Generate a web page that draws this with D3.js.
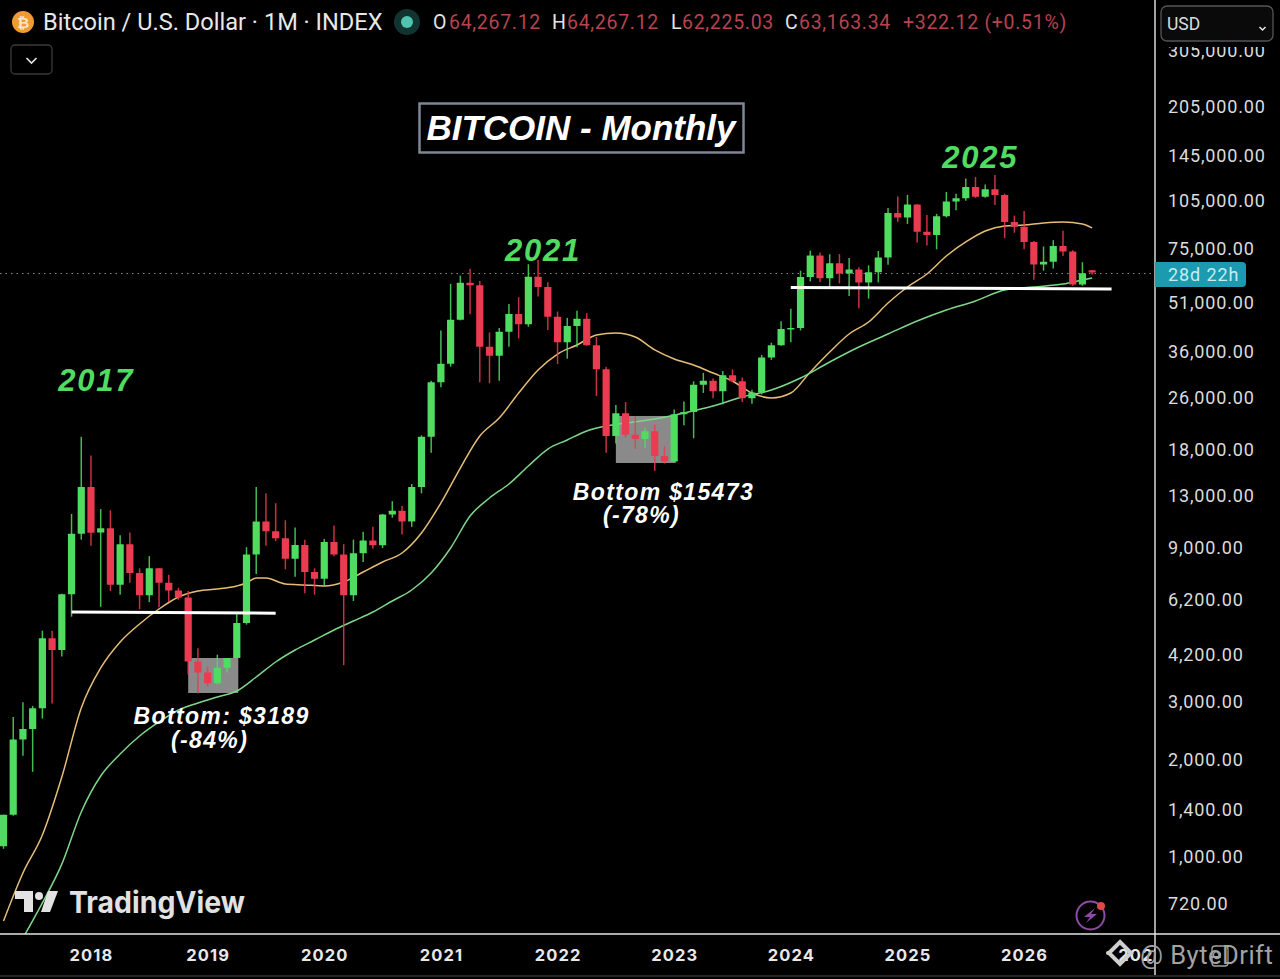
<!DOCTYPE html>
<html>
<head>
<meta charset="utf-8">
<script src="https://cdn.jsdelivr.net/npm/d3@7/dist/d3.min.js"></script>
<style>
html,body{margin:0;padding:0;background:#000;overflow:hidden}
svg{display:block}
text{font-family:Roboto,sans-serif}
</style>
</head>
<body>
<svg id="chart" width="1280" height="979"></svg>
<script>
const startMonth = "2017-04";
const opens = [1080,1350,2300,2480,2875,4720,4340,6450,9900,
13800,10000,10300,6900,9200,7500,6400,7750,7000,6620,6300,4000,
3700,3430,3830,4100,5260,8550,10800,10080,9600,8300,9150,7550,
7200,9350,8550,6400,8620,9450,9130,11350,11650,10800,13800,19700,
29000,33100,45200,58800,57700,37300,35000,41500,47100,43800,61300,57000,
46200,38500,43200,45500,37700,31800,19800,23300,20000,19400,20500,17200,
16550,23100,23500,28500,29300,27200,30500,29200,25900,27000,34600,37700,
42300,42600,61200,71300,60700,67500,62700,64600,58900,63300,70300,96400,
93400,102400,84400,82500,94200,104600,107100,115800,108200,114000,109500,90400,
87500,78500,66900,68200,76300,73300,58000,64267];
const closes = [1350,2300,2480,2875,4720,4340,6450,9900,13800,
9970,10300,6900,9200,7500,6400,7750,7000,6620,6300,4000,3700,
3430,3830,4100,5260,8550,10800,10080,9600,8300,9150,7550,7200,
9350,8550,6400,8620,9450,9130,11350,11650,10800,13800,19700,29000,
33100,45200,58800,57700,37300,35000,41500,47100,43800,61300,57000,46200,
38500,43200,45500,37700,31800,19800,23300,20000,19400,20500,17200,16550,
23100,23500,28500,29300,27200,30500,29200,25900,27000,34600,37700,42300,
42600,61200,71300,60700,67500,62700,64600,58900,63300,70300,96400,93400,
102400,84400,82500,94200,104600,107100,115800,108200,114000,109500,90400,87500,
78500,66900,68200,76300,73300,58000,62840,63163];
const highs = [1350,2700,3000,2920,4980,4980,6470,11400,19700,
17250,11800,11700,9800,10000,7750,8450,7750,7400,6750,6600,4400,
3850,4200,4100,5600,9000,13800,13200,12300,10900,10350,9500,7750,
9550,10500,9200,9500,10050,10400,11400,12480,12050,14100,19900,29300,
41900,58300,61800,64900,59500,41300,42600,50500,53000,67000,69000,59000,
47900,45800,48200,47400,40000,32400,24700,25200,22800,21000,21500,18400,
23900,25300,29200,31000,29800,31400,31800,30000,27500,35200,38400,44700,
48900,64000,73800,72800,71900,72000,70000,65600,66500,73600,99800,108400,
109600,102500,95000,95800,111900,110500,123200,124500,117900,126200,110600,94600,
97800,79000,76000,79500,85000,74000,68000,64267];
const lows = [1060,1340,2050,1830,2670,2970,4150,5500,9500,
9100,5900,6600,6430,7000,5800,6100,5880,6100,6200,3650,3189,
3350,3400,3700,4100,5200,7450,9100,9400,7700,7300,6500,6430,
6850,8450,3900,6150,8100,8900,8950,11100,9850,10400,13200,17600,
28000,32400,45000,47000,29000,28800,29300,37300,39600,43000,53300,42000,
33000,34300,37200,37600,26300,17600,18800,19600,18100,18200,15473,16300,
16500,21400,19500,26900,25900,24800,29000,25200,24900,26600,34000,37600,
38500,41900,59300,59100,56500,58500,53500,49000,52500,58900,66800,90500,
89200,78200,76600,74500,93400,98300,105100,107300,107300,102000,80600,83800,
74500,60000,64000,65000,71000,57500,57500,62225];

const fastMonths = ["2017-04","2017-06","2017-08","2017-10","2017-12","2018-02","2018-04","2018-06","2018-08","2018-10","2018-12","2019-02","2019-04","2019-05","2019-06","2019-07","2019-09","2019-11","2020-01","2020-03","2020-05","2020-07","2020-09","2020-11","2021-01","2021-03","2021-05","2021-07","2021-09","2021-11","2022-01","2022-03","2022-05","2022-07","2022-09","2022-11","2023-01","2023-03","2023-05","2023-07","2023-09","2023-11","2024-01","2024-03","2024-05","2024-07","2024-09","2024-11","2025-01","2025-03","2025-05","2025-07","2025-09","2025-11","2026-01","2026-03","2026-05","2026-07","2026-08"];
const fastAverage = [635,893,1169,1764,2878,3822,4596,5221,5808,6324,6600,6692,6840,6985,7235,7235,6934,6890,6840,7035,7551,8106,8640,9958,12320,15790,19815,22510,26880,31640,35440,37780,40560,41150,39990,36480,34220,32780,30970,29270,26880,25950,26880,31200,35960,40850,44480,50890,57010,62520,71040,78470,84820,87880,88500,89800,90400,89100,86700];
const slowMonths = ["2017-06","2017-08","2017-10","2017-12","2018-02","2018-04","2018-06","2018-08","2018-10","2018-12","2019-02","2019-04","2019-06","2019-08","2019-10","2019-12","2020-02","2020-04","2020-06","2020-08","2020-10","2020-12","2021-02","2021-04","2021-06","2021-08","2021-10","2021-12","2022-02","2022-04","2022-06","2022-08","2022-11","2023-02","2023-05","2023-08","2023-11","2024-02","2024-05","2024-08","2024-11","2025-02","2025-05","2025-08","2025-11","2026-02","2026-05","2026-07","2026-08"];
const slowAverage = [563,722,951,1376,1776,2076,2359,2606,2837,2982,3111,3246,3585,3988,4342,4661,5004,5333,5684,6148,6646,7497,8954,11233,12764,14098,16017,18064,19263,20530,21270,21730,22350,23320,24510,26130,27460,29900,33500,37250,40850,44790,48430,51640,55830,57010,58240,59920,60770];

const supportLines = [
  {from:"2017-11", to:"2019-08", start:5684, end:5640},
  {from:"2024-01", to:"2026-10", start:56820, end:56200}
];
const bottomZones = [
  {from:"2018-11", to:"2019-04", top:4103, bottom:3201},
  {from:"2022-07", to:"2023-01", top:22840, bottom:16360}
];
const yearLabels = [
  {text:"2017", month:"2017-12", price:27260, adjust:15},
  {text:"2021", month:"2021-11", price:68560, adjust:5},
  {text:"2025", month:"2025-09", price:132600, adjust:-5}
];
const bottomNotes = [
  {lines:["Bottom: $3189","(-84%)"], month:"2019-01", price:2570, dx1:14, dx2:2, gap:24},
  {lines:["Bottom $15473","(-78%)"], month:"2022-12", price:12580, dx1:-1, dx2:-23, gap:23}
];
const priceTicks = [305000,205000,145000,105000,75000,51000,36000,26000,18000,13000,9000,6200,4200,3000,2000,1400,1000,720];
const yearTicks = ["2018","2019","2020","2021","2022","2023","2024","2025","2026","2027"];
const lastPrice = 63163;
const countdown = "28d 22h";
const symbolTitle = "Bitcoin / U.S. Dollar · 1M · INDEX";
const ohlcLabels = ["O","H","L","C"];
const ohlcValues = ["64,267.12","64,267.12","62,225.03","63,163.34"];
const changeText = "+322.12 (+0.51%)";

const parse = d3.utcParse("%Y-%m");
const fmt = d3.utcFormat("%Y-%m");
const monthList = d3.utcMonth.range(parse(startMonth), parse("2027-02")).map(fmt);

const x = d3.scalePoint().domain(monthList).range([3.5, 3.5 + 9.72*(monthList.length-1)]);
const y = d3.scaleLog().domain([1000,305000]).range([857,50.6]);

const svg = d3.select("#chart");
const W = 1280, H = 979, axisX = 1155, axisY = 934;
const green = "#4fdc60", red = "#ea3b50";
const defs = svg.append("defs");
defs.append("clipPath").attr("id","plot").append("rect").attr("width",axisX).attr("height",axisY);
defs.append("clipPath").attr("id","timeclip").append("rect").attr("y",axisY).attr("width",axisX).attr("height",H-axisY);
defs.append("clipPath").attr("id","priceclip").append("rect").attr("x",axisX).attr("y",47).attr("width",W-axisX).attr("height",axisY-47);

svg.append("rect").attr("width",W).attr("height",H).attr("fill","#000");
const plot = svg.append("g").attr("clip-path","url(#plot)");

// bottom zones
plot.append("g").selectAll("rect").data(bottomZones).join("rect")
  .attr("x",d=>x(d.from)).attr("width",d=>x(d.to)-x(d.from)+1.5)
  .attr("y",d=>y(d.top)).attr("height",d=>y(d.bottom)-y(d.top))
  .attr("fill","#8a8a8a");

// last price line
plot.append("line").attr("x1",0).attr("x2",axisX).attr("y1",y(lastPrice)+1).attr("y2",y(lastPrice)+1)
  .attr("stroke","#8b8f92").attr("stroke-width",1).attr("stroke-dasharray","1.5 4");

// moving averages
const lineGen = d3.line().x(d=>x(d[0])).y(d=>y(d[1])).curve(d3.curveMonotoneX);
plot.append("path").datum(d3.zip(fastMonths,fastAverage)).attr("d",lineGen)
  .attr("fill","none").attr("stroke","#e6bd77").attr("stroke-width",1.5);
plot.append("path").datum(d3.zip(slowMonths,slowAverage)).attr("d",lineGen)
  .attr("fill","none").attr("stroke","#7fd68a").attr("stroke-width",1.5);

// candles
const candles = opens.map((o,i)=>({m:monthList[i],o,c:closes[i],h:highs[i],l:lows[i]}));
const cg = plot.append("g").selectAll("g").data(candles).join("g")
  .attr("fill",d=>d.c>=d.o?green:red).attr("stroke",d=>d.c>=d.o?green:red);
cg.append("line").attr("x1",d=>x(d.m)).attr("x2",d=>x(d.m))
  .attr("y1",d=>y(d.h)).attr("y2",d=>y(d.l)).attr("stroke-width",1.5).attr("stroke-opacity",.85);
cg.append("rect").attr("x",d=>x(d.m)-3.6).attr("width",7.2)
  .attr("y",d=>y(Math.max(d.o,d.c)))
  .attr("height",d=>Math.max(1.5,Math.abs(y(d.o)-y(d.c))))
  .attr("stroke","none").attr("rx",.5);

// support lines
plot.append("g").selectAll("line").data(supportLines).join("line")
  .attr("x1",d=>x(d.from)).attr("x2",d=>x(d.to))
  .attr("y1",d=>y(d.start)).attr("y2",d=>y(d.end))
  .attr("stroke","#fff").attr("stroke-width",3);

// title
svg.append("rect").attr("x",419.5).attr("y",103.5).attr("width",324).attr("height",49)
  .attr("fill","#000").attr("stroke","#7d8796").attr("stroke-width",2.5);
svg.append("text").attr("x",581).attr("y",140).attr("text-anchor","middle")
  .attr("fill","#fff").style("font-family","'Liberation Sans',Arial,sans-serif")
  .style("font-weight",700).style("font-style","italic").style("font-size","35px")
  .text("BITCOIN - Monthly");

// year notes
svg.append("g").selectAll("text").data(yearLabels).join("text")
  .attr("x",d=>x(d.month)+d.adjust).attr("y",d=>y(d.price))
  .attr("text-anchor","middle").attr("fill",green)
  .style("font-family","'Liberation Sans',Arial,sans-serif").style("font-weight",700).style("font-style","italic")
  .style("font-size","31px").style("letter-spacing","1.8px").text(d=>d.text);

// bottoms
const noteStyle = s => s.attr("text-anchor","middle").attr("fill","#fff")
  .style("font-family","'Liberation Sans',Arial,sans-serif").style("font-weight",700).style("font-style","italic")
  .style("font-size","23px").style("letter-spacing","1.35px");
const noteG = svg.append("g").selectAll("g").data(bottomNotes).join("g");
noteG.append("text").attr("x",d=>x(d.month)+d.dx1).attr("y",d=>y(d.price)).call(noteStyle).text(d=>d.lines[0]);
noteG.append("text").attr("x",d=>x(d.month)+d.dx2).attr("y",d=>y(d.price)+d.gap).call(noteStyle).text(d=>d.lines[1]);

// TradingView watermark
const tv = svg.append("g").attr("fill","#e2e2e2");
tv.append("path").attr("d","M15 891H33V912H24V899H15Z");
tv.append("circle").attr("cx",39).attr("cy",896).attr("r",4);
tv.append("path").attr("d","M48 891H58L50 912H41Z");
tv.append("text").attr("x",69).attr("y",913).style("font-family","Inter,sans-serif").style("font-weight",700)
  .style("font-size","30px").attr("textLength",176).attr("lengthAdjust","spacingAndGlyphs").text("TradingView");

// bolt badge
const bolt = svg.append("g");
bolt.append("circle").attr("cx",1090.5).attr("cy",915.5).attr("r",14).attr("fill","none").attr("stroke","#8e4aa8").attr("stroke-width",2);
bolt.append("path").attr("d","M1095 908L1084 917H1090L1086 923L1097 914H1091Z").attr("fill","#8e4aa8");
bolt.append("circle").attr("cx",1101).attr("cy",906).attr("r",4).attr("fill","#e04848");

// axes frame
svg.append("line").attr("x1",axisX).attr("x2",axisX).attr("y1",0).attr("y2",975).attr("stroke","#d8d8d8").attr("stroke-width",1.5);
svg.append("line").attr("x1",0).attr("x2",W).attr("y1",axisY).attr("y2",axisY).attr("stroke","#e4e4e4").attr("stroke-width",1.5);
svg.append("line").attr("x1",0).attr("x2",W).attr("y1",976).attr("y2",976).attr("stroke","#333").attr("stroke-width",1.5);

// price axis
const pa = svg.append("g").attr("clip-path","url(#priceclip)").append("g")
  .attr("transform","translate(1168,0)")
  .call(d3.axisRight(y).tickValues(priceTicks).tickFormat(d3.format(",.2f")).tickSize(0).tickPadding(0));
pa.select(".domain").remove();
pa.selectAll("text").attr("text-anchor","start").attr("fill","#dcdcdc").style("font-family","Roboto,sans-serif")
  .style("font-size","18px").style("letter-spacing",".85px");

// last price tag
svg.append("path").attr("d","M1155 262H1242a4 4 0 0 1 4 4V283a4 4 0 0 1 -4 4H1155Z").attr("fill","#1c9bb0");
svg.append("text").attr("x",1168).attr("y",281).attr("fill","#c4eef3").style("font-size","18px").style("letter-spacing",".9px").text(countdown);

// time axis
const ta = svg.append("g").attr("clip-path","url(#timeclip)").append("g")
  .attr("transform","translate(0,955)")
  .call(d3.axisBottom(x).tickValues(yearTicks.map(t=>t+"-01")).tickFormat(d=>d.slice(0,4)).tickSize(0).tickPadding(0));
ta.select(".domain").remove();
ta.selectAll("text").attr("dy","0.36em").attr("y",0).attr("fill","#e8e8e8").style("font-family","Inter,sans-serif")
  .style("font-weight",700).style("font-size","16.5px").style("letter-spacing","1.1px");

// source watermark
const wm = svg.append("g");
wm.append("path").attr("d","M1120 942L1131 953L1120 964L1109 953Z").attr("fill","none").attr("stroke","#cfcfcf").attr("stroke-width",4);
wm.append("circle").attr("cx",1108).attr("cy",953).attr("r",2).attr("fill","#cfcfcf");
wm.append("text").attr("x",1140).attr("y",964).attr("fill","#a3a3a3").style("font-size","25.5px").style("letter-spacing",".5px").text("@ ByteDrift");
wm.append("rect").attr("x",1212).attr("y",946).attr("width",16).attr("height",20).attr("rx",3).attr("fill","none").attr("stroke","#a3a3a3").attr("stroke-width",1.3);
wm.append("circle").attr("cx",1217).attr("cy",955).attr("r",3.5).attr("fill","none").attr("stroke","#a3a3a3").attr("stroke-width",1.3);

// header
svg.append("circle").attr("cx",23).attr("cy",22).attr("r",11).attr("fill","#f09a35");
svg.append("text").attr("x",23).attr("y",27.5).attr("text-anchor","middle").attr("fill","#fde7c8").style("font-size","15px").style("font-weight",700).text("₿");
svg.append("text").attr("x",43).attr("y",30).attr("fill","#e8e8e8").style("font-size","23.6px").text(symbolTitle);
svg.append("circle").attr("cx",407).attr("cy",22).attr("r",13).attr("fill","#123430");
svg.append("circle").attr("cx",407).attr("cy",22).attr("r",6).attr("fill","#4fc4ae");

const headLabelX = [433,552,671,785];
const headValueX = [449,567,682,799];
const valueRed = "#b8434f";
ohlcLabels.forEach((l,i)=>{
  svg.append("text").attr("x",headLabelX[i]).attr("y",29).attr("fill","#e4e4e4").style("font-size","19.5px").text(l);
  svg.append("text").attr("x",headValueX[i]).attr("y",29).attr("fill",valueRed).style("font-size","19.5px").style("letter-spacing",".7px").text(ohlcValues[i]);
});
svg.append("text").attr("x",903).attr("y",29).attr("fill",valueRed).style("font-size","19.5px").style("letter-spacing",".7px").text(changeText);

// collapse button
svg.append("rect").attr("x",11).attr("y",45).attr("width",41).attr("height",29).attr("rx",4).attr("fill","#000").attr("stroke","#3a3a3a").attr("stroke-width",1.3);
svg.append("path").attr("d","M26.5 58L31.5 63L36.5 58").attr("fill","none").attr("stroke","#e6e6e6").attr("stroke-width",1.6);

// currency select
svg.append("rect").attr("x",1161).attr("y",6).attr("width",112).attr("height",35).attr("rx",6).attr("fill","#0a0a0a").attr("stroke","#555").attr("stroke-width",1.3);
svg.append("text").attr("x",1167).attr("y",30).attr("fill","#dcdcdc").style("font-size","17.5px").text("USD");
svg.append("path").attr("d","M1259.5 27L1262.5 30L1265.5 27").attr("fill","none").attr("stroke","#e6e6e6").attr("stroke-width",1.5);
</script>
</body>
</html>
